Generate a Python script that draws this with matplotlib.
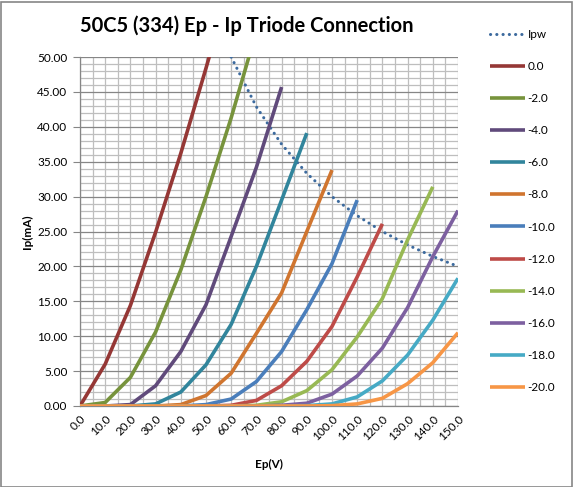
import matplotlib
matplotlib.use("Agg")
import matplotlib.pyplot as plt
from matplotlib.patches import Rectangle
from matplotlib.ticker import MultipleLocator

# plate voltage steps (V)
ep = [0, 10, 20, 30, 40, 50, 60, 70, 80, 90, 100, 110, 120, 130, 140, 150]

# plate dissipation limit curve (mA), starts at 60 V
ipw_ep = [60, 70, 80, 90, 100, 110, 120, 130, 140, 150]
ipw = [50.0, 42.86, 37.5, 33.33, 30.0, 27.27, 25.0, 23.08, 21.43, 20.0]

# grid bias -> plate current (mA); each curve stops where the data stops
grid_labels = ["0.0", "-2.0", "-4.0", "-6.0", "-8.0", "-10.0",
               "-12.0", "-14.0", "-16.0", "-18.0", "-20.0"]
ip_0 = [0, 6.0, 14.4, 24.9, 36.2, 48.4, 61.0]
ip_2 = [0, 0.5, 4.1, 10.6, 19.5, 30.0, 41.3, 53.7]
ip_4 = [0, 0, 0.2, 2.9, 7.8, 14.5, 24.3, 34.2, 45.7]
ip_6 = [0, 0, 0, 0.3, 2.0, 5.9, 11.7, 20.0, 29.5, 39.1]
ip_8 = [0, 0, 0, 0, 0.2, 1.5, 4.7, 10.4, 16.2, 25.0, 33.8]
ip_10 = [0, 0, 0, 0, 0, 0.2, 1.0, 3.5, 7.8, 13.8, 20.4, 29.5]
ip_12 = [0, 0, 0, 0, 0, 0, 0.1, 0.8, 2.9, 6.4, 11.4, 18.5, 26.1]
ip_14 = [0, 0, 0, 0, 0, 0, 0, 0.1, 0.6, 2.2, 5.2, 9.9, 15.4, 23.8, 31.4]
ip_16 = [0, 0, 0, 0, 0, 0, 0, 0, 0.1, 0.4, 1.7, 4.3, 8.3, 14.1, 21.4, 28.0]
ip_18 = [0, 0, 0, 0, 0, 0, 0, 0, 0, 0.05, 0.3, 1.3, 3.6, 7.3, 12.3, 18.3]
ip_20 = [0, 0, 0, 0, 0, 0, 0, 0, 0, 0, 0.05, 0.3, 1.1, 3.2, 6.2, 10.5]
curves = [ip_0, ip_2, ip_4, ip_6, ip_8, ip_10, ip_12, ip_14, ip_16, ip_18, ip_20]

colors = ["#953735", "#77933C", "#604A7B", "#31859C", "#D0752F", "#4A7EBB",
          "#BE4B48", "#98B954", "#7D60A0", "#46AAC5", "#F79646"]

font = "Lato"
W, H = 573, 487
fig = plt.figure(figsize=(W / 100, H / 100), dpi=100)

# chart area border
fig.patches.append(Rectangle((0.5 / W, 0.5 / H), 1 - 2 / W, 1 - 2 / H,
                             transform=fig.transFigure, fill=False,
                             edgecolor="#868686", linewidth=1.2))

ax = fig.add_axes([80 / W, (H - 406) / H, 378 / W, 349 / H])

ax.plot(ipw_ep, ipw, color="#3C6A9E", linestyle=(0, (0.05, 2.0)),
        linewidth=2.2, dash_capstyle="round", label="Ipw", zorder=3)
for vals, lab, col in zip(curves, grid_labels, colors):
    ax.plot(ep[:len(vals)], vals, color=col, linewidth=2.6, label=lab,
            solid_capstyle="butt", zorder=3)

ax.set_xlim(0, 150)
ax.set_ylim(0, 50)
ax.xaxis.set_major_locator(MultipleLocator(10))
ax.xaxis.set_minor_locator(MultipleLocator(5))
ax.yaxis.set_major_locator(MultipleLocator(5))
ax.yaxis.set_minor_locator(MultipleLocator(1))

ax.grid(which="minor", color="#BEBEBE", linewidth=0.9)
ax.grid(which="major", axis="x", color="#BEBEBE", linewidth=0.9)
ax.grid(which="major", axis="y", color="#868686", linewidth=0.9)
ax.set_axisbelow(True)

for side in ["top", "right"]:
    ax.spines[side].set_visible(False)
for side in ["left", "bottom"]:
    ax.spines[side].set_color("#868686")
    ax.spines[side].set_linewidth(0.9)

ax.tick_params(which="minor", length=0)
ax.tick_params(which="major", axis="y", length=5, color="#868686", pad=4)
ax.tick_params(which="major", axis="x", length=0, pad=5)
ax.set_yticklabels([f"{v:.2f}" for v in ax.get_yticks()],
                   fontsize=8.5, family=font)
ax.set_xticks(ep)
ax.set_xticklabels([f"{v:.1f}" for v in ep], fontsize=8.5, family=font,
                   rotation=45, ha="right", va="top", rotation_mode="anchor")

ax.set_xlabel("Ep(V)", fontsize=8.5, family=font, weight="bold", labelpad=12)
ax.set_ylabel("Ip(mA)", fontsize=8.5, family=font, weight="bold", labelpad=3)

fig.text(247 / W, 1 - 26 / H, "50C5 (334) Ep - Ip Triode Connection",
         ha="center", va="center", fontsize=14.5, family=font, weight="bold")

fig.legend(loc="upper left", bbox_to_anchor=(485 / W, 1 - 24 / H),
           frameon=False, prop={"family": font, "size": 8.5},
           handlelength=3.0, handletextpad=0.2, labelspacing=1.79,
           borderaxespad=0)

fig.savefig("out.png", dpi=100)
